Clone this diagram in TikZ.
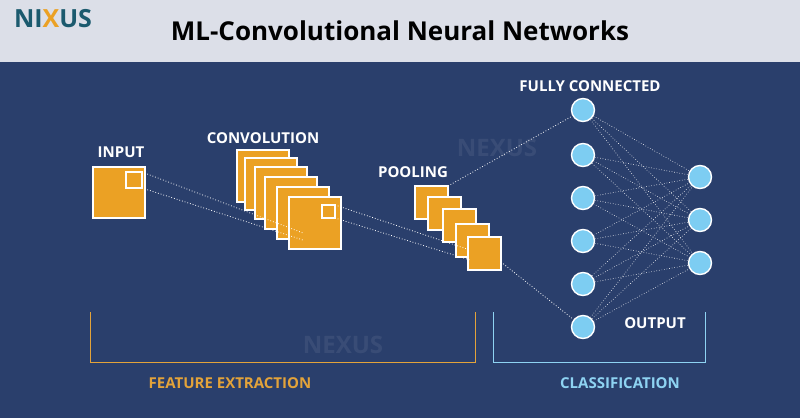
\documentclass[tikz,border=0pt]{standalone}
\usepackage{fontspec}
\setmainfont{Open Sans}
\begin{document}
\begin{tikzpicture}[x=1pt,y=-1pt,
 fmap/.style={fill=mapor,draw=white,line width=1.6pt},
 win/.style={draw=white,line width=1.6pt},
 dot/.style={draw=white,dotted,line width=0.8pt},
 neuron/.style={circle,fill=neur,draw=white,line width=1.4pt,minimum size=23pt,inner sep=0pt},
 lab/.style={text=white,font=\bfseries\fontsize{15}{17}\selectfont},
 wm/.style={text=white,opacity=0.07,font=\bfseries\fontsize{24}{26}\selectfont}]
\definecolor{bgblue}{HTML}{2A3F6C}
\definecolor{hdr}{HTML}{DCDFE8}
\definecolor{mapor}{HTML}{EBA124}
\definecolor{neur}{HTML}{7DCDF2}
\definecolor{teal}{HTML}{1B5A6E}
\definecolor{brk}{HTML}{E3A33A}
\definecolor{cls}{HTML}{8ED3F2}
\useasboundingbox (0,0) rectangle (800,418);
\fill[bgblue] (0,0) rectangle (800,418);
\fill[hdr] (0,0) rectangle (800,62);
\node[font=\bfseries\fontsize{26}{29}\selectfont] (title) at (400,31) {ML-Convolutional Neural Networks};
\node[font=\bfseries\fontsize{25}{28}\selectfont,inner sep=0pt] (logo) at (53,19)
 {\textcolor{teal}{NI}\textcolor{mapor}{X}\textcolor{teal}{US}};
\node[wm] (wm1) at (497,148) {NEXUS};
\node[wm] (wm2) at (343,345) {NEXUS};
% input
\draw[fmap] (93,167) rectangle (145,218);
\draw[win] (126,172) rectangle (142,188);
\coordinate (i1) at (142,172); \coordinate (i2) at (142,188);
\node[lab] (linput) at (121,152) {INPUT};
% convolution
\foreach \x/\y in {237/150,245/158,255/167,265/177,277/187,289/197}
 \draw[fmap] (\x,\y) rectangle ++(52,52);
\draw[win] (322,205) rectangle (335,218);
\coordinate (c1) at (335,205); \coordinate (c2) at (335,218);
\coordinate (ce1) at (303,233); \coordinate (ce2) at (303,240);
\node[lab] (lconv) at (263,138) {CONVOLUTION};
\draw[dot] (i1) -- (ce1); \draw[dot] (i2) -- (ce2);
% pooling
\foreach \x/\y in {415/186,428/197,443/209,456/224,468/237}
 \draw[fmap] (\x,\y) rectangle ++(33,33);
\coordinate (pe1) at (470,250); \coordinate (pe2) at (470,260);
\draw[dot] (c1) -- (pe1); \draw[dot] (c2) -- (pe2);
\node[lab] (lpool) at (413,172) {POOLING};
\coordinate (pt) at (448,186); \coordinate (pb) at (501,262);
% network
\foreach \i/\y in {1/110,2/155,3/198,4/241,5/284,6/327}
 \node[neuron] (h\i) at (583,\y) {};
\foreach \j/\y in {1/177,2/220,3/263}
 \node[neuron] (o\j) at (700,\y) {};
\foreach \i in {1,...,6}\foreach \j in {1,2,3}
 \draw[dot,line width=0.6pt] (h\i) -- (o\j);
\draw[dot] (pt) -- (h1); \draw[dot] (pb) -- (h6);
\node[lab] (lfc) at (590,86) {FULLY CONNECTED};
\node[lab] (lout) at (655,323) {OUTPUT};
% brackets
\draw[brk,line width=1pt] (90,312) -- (90,362) -- (475,362) -- (475,312);
\draw[cls,line width=1pt] (493,312) -- (493,362) -- (705,362) -- (705,312);
\node[text=brk,font=\bfseries\fontsize{15}{17}\selectfont] (lfe) at (230,383) {FEATURE EXTRACTION};
\node[text=cls,font=\bfseries\fontsize{15}{17}\selectfont] (lcl) at (620,383) {CLASSIFICATION};
\end{tikzpicture}
\end{document}
